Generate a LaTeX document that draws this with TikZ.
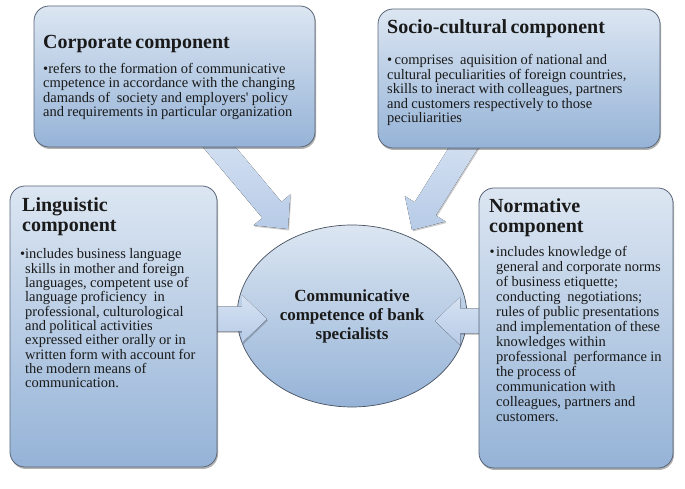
\documentclass[tikz,border=0pt]{standalone}
\usepackage{fontspec}
\setmainfont{Liberation Serif}
\usetikzlibrary{calc,shadows,shapes.geometric}
\definecolor{boxtop}{HTML}{DCE6F2}
\definecolor{boxbot}{HTML}{95B3D7}
\definecolor{boxline}{HTML}{5A6577}
\definecolor{arrtop}{HTML}{D6E2F2}
\definecolor{arrbot}{HTML}{B7CBE7}
\definecolor{txt}{HTML}{1A1A1A}
\newcommand\titlefnt{\fontsize{20}{20}\selectfont\bfseries}
\newcommand\bodyfnt[1]{\fontsize{14.5}{#1}\selectfont\lineskiplimit=-\maxdimen}
\newcommand\blockarr[3]{%
  \fill[arrstyle] (#1) -- ($(#1)+(#2+180:25)+(#2+90:24)$)
    -- ($(#1)+(#2+180:25)+(#2+90:12.5)$)
    -- ($(#1)+(#2+180:#3)+(#2+90:12.5)$)
    -- ($(#1)+(#2+180:#3)+(#2-90:12.5)$)
    -- ($(#1)+(#2+180:25)+(#2-90:12.5)$)
    -- ($(#1)+(#2+180:25)+(#2-90:24)$) -- cycle;}
\tikzset{
  compbox/.style={draw=boxline, line width=0.8pt, rounded corners=15pt,
    top color=boxtop, bottom color=boxbot, inner sep=0pt,
    drop shadow={shadow xshift=1pt, shadow yshift=-2pt, opacity=0.3, fill=black}},
  arrstyle/.style={top color=arrtop, bottom color=arrbot,
    drop shadow={shadow xshift=1pt, shadow yshift=-1.5pt, opacity=0.2, fill=black}},
  textblock/.style={anchor=base west, inner sep=0pt, text width=#1, align=left, text=txt},
  corestyle/.style={ellipse, draw=boxline!80!black, line width=0.7pt,
    top color=boxtop, bottom color=boxbot, inner sep=0pt,
    minimum width=230pt, minimum height=182pt, align=center, text=txt,
    font=\fontsize{17}{19}\selectfont\bfseries}
}
\begin{document}
\begin{tikzpicture}[x=1pt,y=1pt]
\path[use as bounding box, fill=white] (0,0) rectangle (685,489);

% central ellipse
\node[corestyle] (core) at (352,173) {Communicative\\competence of bank\\specialists};

% block arrows towards the centre
\coordinate (tipCorp) at (288,260);
\coordinate (tipSoc) at (412,259);
\coordinate (tipLing) at (267,170);
\coordinate (tipNorm) at (435,168);
\blockarr{tipCorp}{-50}{120}
\blockarr{tipSoc}{238}{110}
\blockarr{tipLing}{0}{62}
\blockarr{tipNorm}{180}{55}

% component boxes
\node[compbox, minimum width=281pt, minimum height=141pt] (corp) at (174.5,412.5) {};
\node[compbox, minimum width=282pt, minimum height=139pt] (soc) at (519,410.5) {};
\node[compbox, minimum width=207pt, minimum height=281pt] (ling) at (113.5,162.5) {};
\node[compbox, minimum width=194pt, minimum height=280pt] (norm) at (576,161) {};

% texts
\node[textblock=300pt] (corpT) at (43,440) {%
  {\titlefnt Corporate component\par}\vskip10pt
  {\bodyfnt{14.5}•refers to the formation of communicative\\
  cmpetence in accordance with the changing\\
  damands of\ \ society and employers\textquotesingle\ policy\\
  and requirements in particular organization\par}};

\node[textblock=300pt] (socT) at (387,455) {%
  {\titlefnt Socio-cultural component\par}\vskip16.5pt
  {\bodyfnt{14.4}•\,comprises\ \ aquisition of national and\\
  cultural peculiarities of foreign countries,\\
  skills to ineract with colleagues, partners\\
  and customers respectively to those\\
  peciuliarities\par}};

\node[textblock=250pt] (lingT) at (22,277) {%
  {\titlefnt Linguistic\\component\par}\vskip12.5pt
  {\bodyfnt{14.33}\leftskip=3pt \leavevmode\llap{•}includes business language\\
  skills in mother and foreign\\
  languages, competent use of\\
  language proficiency\ \ in\\
  professional, culturological\\
  and political activities\\
  expressed either orally or in\\
  written form with account for\\
  the modern means of\\
  communication.\par}};

\node[textblock=250pt] (normT) at (489,276) {%
  {\titlefnt Normative\\component\par}\vskip9pt
  {\bodyfnt{15}\leftskip=7pt \leavevmode\llap{•\hspace{1.5pt}}includes knowledge of\\
  general and corporate norms\\
  of business etiquette;\\
  conducting\ \ negotiations;\\
  rules of public presentations\\
  and implementation of these\\
  knowledges within\\
  professional\ \ performance in\\
  the process of\\
  communication with\\
  colleagues, partners and\\
  customers.\par}};
\end{tikzpicture}
\end{document}
